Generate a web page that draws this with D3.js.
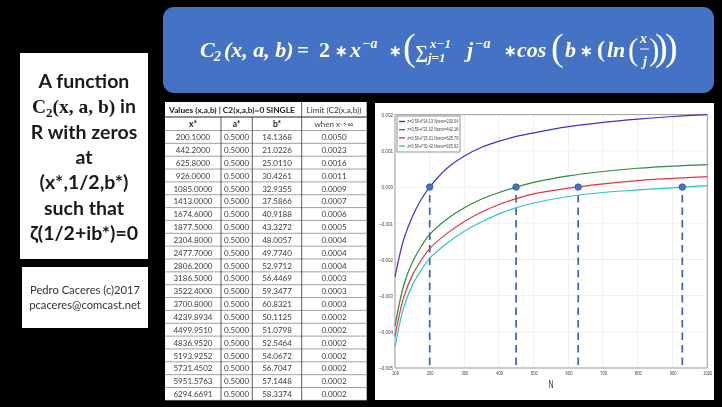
<!DOCTYPE html>
<html>
<head>
<meta charset="utf-8">
<script src="https://cdnjs.cloudflare.com/ajax/libs/d3/7.8.5/d3.min.js"></script>
<style>
  html, body { margin: 0; padding: 0; background: #000; }
  svg { display: block; filter: blur(0.3px); }
</style>
</head>
<body>
<div id="chart"></div>
<script>
// values
var nValues = [100, 125, 150, 175, 200, 250, 300, 350, 400, 450, 500, 600, 700, 800, 900, 1000];
var blueValues = [-0.00248, -0.00145, -0.00082, -0.00035, 0, 0.00052, 0.00086, 0.0011, 0.00127, 0.0014, 0.0015, 0.00167, 0.00179, 0.00188, 0.00195, 0.002];
var greenValues = [-0.00384, -0.00272, -0.00208, -0.00165, -0.00131, -0.00088, -0.00057, -0.00033, -0.00015, 0, 0.00013, 0.00031, 0.00043, 0.00052, 0.00058, 0.00062];
var redValues = [-0.00413, -0.00305, -0.00244, -0.00203, -0.0017, -0.00128, -0.00095, -0.00069, -0.00048, -0.00032, -0.00019, -0.00003, 0.00009, 0.00018, 0.00024, 0.00029];
var cyanValues = [-0.00442, -0.00333, -0.00271, -0.0023, -0.00197, -0.00155, -0.00122, -0.00096, -0.00074, -0.00057, -0.00044, -0.00026, -0.00015, -0.00008, -0.00002, 0.00004];
var zeroValues = [200, 449, 628, 928];
var legendLabels = ["z=0.50+i*14.13 Nzero=200.04", "z=0.50+i*21.02 Nzero=442.18", "z=0.50+i*25.01 Nzero=625.79", "z=0.50+i*30.42 Nzero=925.92"];
var yTicks = [0.002, 0.001, 0, -0.001, -0.002, -0.003, -0.004, -0.005];
var xTicks = [100, 200, 300, 400, 500, 600, 700, 800, 900, 1000];

// table columns
var xStar = ["200.1000", "442.2000", "625.8000", "926.0000", "1085.0000", "1413.0000", "1674.6000", "1877.5000", "2304.8000", "2477.7000", "2806.2000", "3186.5000", "3522.4000", "3700.8000", "4239.8934", "4499.9510", "4836.9520", "5193.9252", "5731.4502", "5951.5763", "6294.6691"];
var bStar = ["14.1368", "21.0226", "25.0110", "30.4261", "32.9355", "37.5866", "40.9188", "43.3272", "48.0057", "49.7740", "52.9712", "56.4469", "59.3477", "60.8321", "50.1125", "51.0798", "52.5464", "54.0672", "56.7047", "57.1448", "58.3374"];
var limitValues = ["0.0050", "0.0023", "0.0016", "0.0011", "0.0009", "0.0007", "0.0006", "0.0005", "0.0004", "0.0004", "0.0004", "0.0003", "0.0003", "0.0003", "0.0002", "0.0002", "0.0002", "0.0002", "0.0002", "0.0002", "0.0002"];
var aStar = "0.5000";

var titleLines = ["A function", null, "R with zeros", "at", "(x*,1/2,b*)", "such that", "ζ(1/2+ib*)=0"];

var svg = d3.select("#chart").append("svg")
    .attr("width", 722)
    .attr("height", 407)
    .style("background", "#000");

drawFormula();
drawTitle();
drawTable();
drawPlot();

function drawFormula() {
  var g = svg.append("g").attr("fill", "#fff")
      .style("font-family", "'Liberation Serif', serif")
      .style("font-weight", "bold")
      .style("font-style", "italic");

  g.append("rect")
      .attr("x", 163).attr("y", 7)
      .attr("width", 551).attr("height", 86)
      .attr("rx", 11)
      .attr("fill", "#4472c4");

  // [text, x, baseline, size]
  var pieces = [
    ["C", 200, 57, 22], ["2", 214, 61, 14], ["(x, a, b)", 224, 57, 22],
    ["x", 350, 57, 22], ["−a", 362, 48, 14],
    ["x−1", 430, 48, 13], ["j=1", 428, 62, 13],
    ["j", 467, 57, 22], ["−a", 475, 48, 14], ["cos", 517, 57, 22],
    ["b", 565, 57, 22], ["ln", 607, 57, 22],
    ["x", 640, 43, 14], ["j", 643, 66, 14]
  ];
  g.selectAll("text.piece").data(pieces).enter().append("text")
      .attr("class", "piece")
      .attr("x", function(d) { return d[1]; })
      .attr("y", function(d) { return d[2]; })
      .style("font-size", function(d) { return d[3] + "px"; })
      .text(function(d) { return d[0]; });

  // upright signs and brackets: [text, x, baseline, size]
  var signs = [
    ["=", 297, 57, 21], ["2", 319, 57, 22], ["∗", 335, 56, 15], ["∗", 389, 56, 15],
    ["∑", 415, 58, 18], ["∗", 504, 56, 15], ["∗", 580, 56, 15],
    ["(", 597, 57, 24], ["(", 403, 60, 38], ["(", 551, 60, 38], ["(", 628, 60, 31],
    [")", 649, 60, 31], [")", 655, 60, 38], [")", 665, 60, 38]
  ];
  g.selectAll("text.sign").data(signs).enter().append("text")
      .attr("class", "sign")
      .attr("x", function(d) { return d[1]; })
      .attr("y", function(d) { return d[2]; })
      .style("font-size", function(d) { return d[3] + "px"; })
      .style("font-style", "normal")
      .style("font-weight", function(d) { return d[3] > 24 ? "normal" : "bold"; })
      .text(function(d) { return d[0]; });

  g.append("line")
      .attr("x1", 640).attr("x2", 649)
      .attr("y1", 49).attr("y2", 49)
      .attr("stroke", "#fff");
}

function drawTitle() {
  svg.append("rect")
      .attr("x", 20).attr("y", 53)
      .attr("width", 128).attr("height", 206)
      .attr("fill", "#fff");

  svg.append("rect")
      .attr("x", 22).attr("y", 267)
      .attr("width", 126).attr("height", 61)
      .attr("fill", "#fff");

  var title = svg.append("g")
      .attr("text-anchor", "middle")
      .attr("fill", "#1a1a1a")
      .style("font-family", "Lato, 'Open Sans', sans-serif")
      .style("font-weight", "bold")
      .style("font-size", "19.5px");

  titleLines.forEach(function(line, i) {
    var t = title.append("text")
        .attr("x", 84)
        .attr("y", 88 + i * 25.3);
    if (line) {
      t.text(line);
    } else {
      t.append("tspan").style("font-family", "'Liberation Serif', serif").text("C");
      t.append("tspan").style("font-family", "'Liberation Serif', serif").style("font-size", "13px").attr("dy", 4).text("2");
      t.append("tspan").style("font-family", "'Liberation Serif', serif").attr("dy", -4).text("(x, a, b)");
      t.append("tspan").text(" in");
    }
  });

  var credit = svg.append("g")
      .attr("text-anchor", "middle")
      .attr("fill", "#333")
      .style("font-family", "Lato, 'Open Sans', sans-serif")
      .style("font-size", "11.2px")
      .style("white-space", "pre");
  credit.append("text").attr("x", 85).attr("y", 294).text("Pedro Caceres  (c)2017");
  credit.append("text").attr("x", 85).attr("y", 309).text("pcaceres@comcast.net");
}

function drawTable() {
  var columns = [165, 221, 252.3, 301.7, 366.7];
  var rowH = 12.85, top = 130.5;
  var font = "Lato, 'Open Sans', sans-serif";

  var g = svg.append("g").style("font-family", font);

  g.append("rect")
      .attr("x", 165).attr("y", 102)
      .attr("width", 201.7).attr("height", 298)
      .attr("fill", "#fff");

  // row rules
  var rows = d3.range(xStar.length + 1);
  g.selectAll("line.row").data(rows).enter().append("line")
      .attr("class", "row")
      .attr("x1", 165).attr("x2", 366.7)
      .attr("y1", function(d) { return top + d * rowH; })
      .attr("y2", function(d) { return top + d * rowH; })
      .attr("stroke", "#777")
      .attr("stroke-width", 0.7);

  g.append("line").attr("x1", 165).attr("x2", 366.7).attr("y1", 117).attr("y2", 117)
      .attr("stroke", "#222").attr("stroke-width", 1.2);

  // column rules
  g.selectAll("line.col").data(columns.slice(1, 4)).enter().append("line")
      .attr("class", "col")
      .attr("x1", function(d) { return d; })
      .attr("x2", function(d) { return d; })
      .attr("y1", function(d) { return d == 301.7 ? 102 : 117; })
      .attr("y2", 400)
      .attr("stroke", "#333")
      .attr("stroke-width", 0.8);

  var centers = [193, 236.6, 277, 334];
  var body = [xStar, xStar.map(function() { return aStar; }), bStar, limitValues];

  body.forEach(function(col, c) {
    g.selectAll("text.c" + c).data(col).enter().append("text")
        .attr("class", "c" + c)
        .attr("x", centers[c])
        .attr("y", function(d, i) { return top + i * rowH + 9.6; })
        .attr("text-anchor", "middle")
        .attr("fill", "#3a3a3a")
        .style("font-size", "8px")
        .text(function(d) { return d; });
  });

  // headers
  g.append("text").attr("x", 169).attr("y", 112.5)
      .attr("fill", "#222").style("font-size", "8.3px").style("font-weight", "bold")
      .text("Values (x,a,b) | C2(x,a,b)=0 SINGLE");
  g.append("text").attr("x", 334).attr("y", 112.5).attr("text-anchor", "middle")
      .attr("fill", "#333").style("font-size", "8.2px")
      .text("Limit (C2(x,a,b))");

  var heads = [["x*", 193], ["a*", 236.6], ["b*", 277]];
  g.selectAll("text.head").data(heads).enter().append("text")
      .attr("class", "head")
      .attr("x", function(d) { return d[1]; })
      .attr("y", 127)
      .attr("text-anchor", "middle")
      .attr("fill", "#222")
      .style("font-size", "8.5px")
      .style("font-weight", "bold")
      .text(function(d) { return d[0]; });
  g.append("text").attr("x", 334).attr("y", 127).attr("text-anchor", "middle")
      .attr("fill", "#444").style("font-size", "8px")
      .text("when x->∞");
}

function drawPlot() {
  svg.append("rect")
      .attr("x", 375).attr("y", 103)
      .attr("width", 339).attr("height", 297)
      .attr("fill", "#fff");

  // define the x y scales
  var xScale = d3.scaleLinear().domain([100, 1000]).range([395, 707.3]);
  var yScale = d3.scaleLinear().domain([-0.005, 0.002]).range([368, 114.7]);
  var tickFont = "'Liberation Sans', sans-serif";

  // grid
  svg.append("g").selectAll("line").data(xTicks).enter().append("line")
      .attr("x1", function(d) { return xScale(d); })
      .attr("x2", function(d) { return xScale(d); })
      .attr("y1", yScale(0.002)).attr("y2", yScale(-0.005))
      .attr("stroke", "#e6e9ee").attr("stroke-width", 0.7);
  svg.append("g").selectAll("line").data(yTicks).enter().append("line")
      .attr("x1", xScale(100)).attr("x2", xScale(1000))
      .attr("y1", function(d) { return yScale(d); })
      .attr("y2", function(d) { return yScale(d); })
      .attr("stroke", "#e6e9ee").attr("stroke-width", 0.7);

  // axes
  var xAxis = svg.append("g")
      .attr("transform", "translate(0," + yScale(-0.005) + ")")
      .call(d3.axisBottom(xScale).tickValues(xTicks).tickSize(0).tickPadding(2.5).tickFormat(d3.format("d")));
  var yAxis = svg.append("g")
      .attr("transform", "translate(" + xScale(100) + ",0)")
      .call(d3.axisLeft(yScale).tickValues(yTicks).tickSize(0).tickPadding(2).tickFormat(d3.format(".3f")));
  [xAxis, yAxis].forEach(function(a) {
    a.select(".domain").remove();
    // the labels are squeezed sideways in the picture
    a.selectAll("text")
        .attr("fill", "#444")
        .attr("lengthAdjust", "spacingAndGlyphs")
        .attr("textLength", function() { return this.textContent.length * 2.3; })
        .style("font-family", tickFont)
        .style("font-size", "6px");
  });

  svg.append("rect")
      .attr("x", xScale(100)).attr("y", yScale(0.002))
      .attr("width", xScale(1000) - xScale(100))
      .attr("height", yScale(-0.005) - yScale(0.002))
      .attr("fill", "none")
      .attr("stroke", "#8a8a8a")
      .attr("stroke-width", 0.8);

  svg.append("text")
      .attr("x", 551).attr("y", 388)
      .attr("text-anchor", "middle")
      .attr("fill", "#333")
      .attr("textLength", 5)
      .attr("lengthAdjust", "spacingAndGlyphs")
      .style("font-family", tickFont)
      .style("font-size", "10px")
      .text("N");

  // dashed drops from the zeros
  svg.append("g").selectAll("line").data(zeroValues).enter().append("line")
      .attr("x1", function(d) { return xScale(d); })
      .attr("x2", function(d) { return xScale(d); })
      .attr("y1", yScale(0) + 8)
      .attr("y2", yScale(-0.005))
      .attr("stroke", "#3d63a8")
      .attr("stroke-width", 1.7)
      .attr("stroke-dasharray", "7.5,5");

  // curves
  var seriesValues = [blueValues, greenValues, redValues, cyanValues];
  var colors = ["#3535c8", "#2e8b3e", "#e0363f", "#2fc4c6"];
  var line = d3.line()
      .x(function(d, i) { return xScale(nValues[i]); })
      .y(function(d) { return yScale(d); })
      .curve(d3.curveCatmullRom);

  svg.append("g").selectAll("path").data(seriesValues).enter().append("path")
      .attr("d", line)
      .attr("fill", "none")
      .attr("stroke", function(d, i) { return colors[i]; })
      .attr("stroke-width", 1.2);

  // zeros
  svg.append("g").selectAll("circle").data(zeroValues).enter().append("circle")
      .attr("cx", function(d) { return xScale(d); })
      .attr("cy", yScale(0))
      .attr("r", 3.3)
      .attr("fill", "#4472c4")
      .attr("stroke", "#2f5597")
      .attr("stroke-width", 0.7);

  // legend
  var legend = svg.append("g");
  legend.append("rect")
      .attr("x", 397).attr("y", 116)
      .attr("width", 63).attr("height", 36)
      .attr("fill", "#fff")
      .attr("stroke", "#666")
      .attr("stroke-width", 0.7);

  var entry = legend.selectAll("g.entry").data(legendLabels).enter().append("g")
      .attr("class", "entry")
      .attr("transform", function(d, i) { return "translate(399," + (121.5 + i * 8.2) + ")"; });
  entry.append("line")
      .attr("x1", 0).attr("x2", 6)
      .attr("stroke", function(d, i) { return colors[i]; })
      .attr("stroke-width", 1.4);
  entry.append("text")
      .attr("x", 8.3).attr("y", 1.7)
      .attr("fill", "#444")
      .attr("textLength", 51)
      .attr("lengthAdjust", "spacingAndGlyphs")
      .style("font-family", tickFont)
      .style("font-size", "4.8px")
      .text(function(d) { return d; });
}
</script>
</body>
</html>
